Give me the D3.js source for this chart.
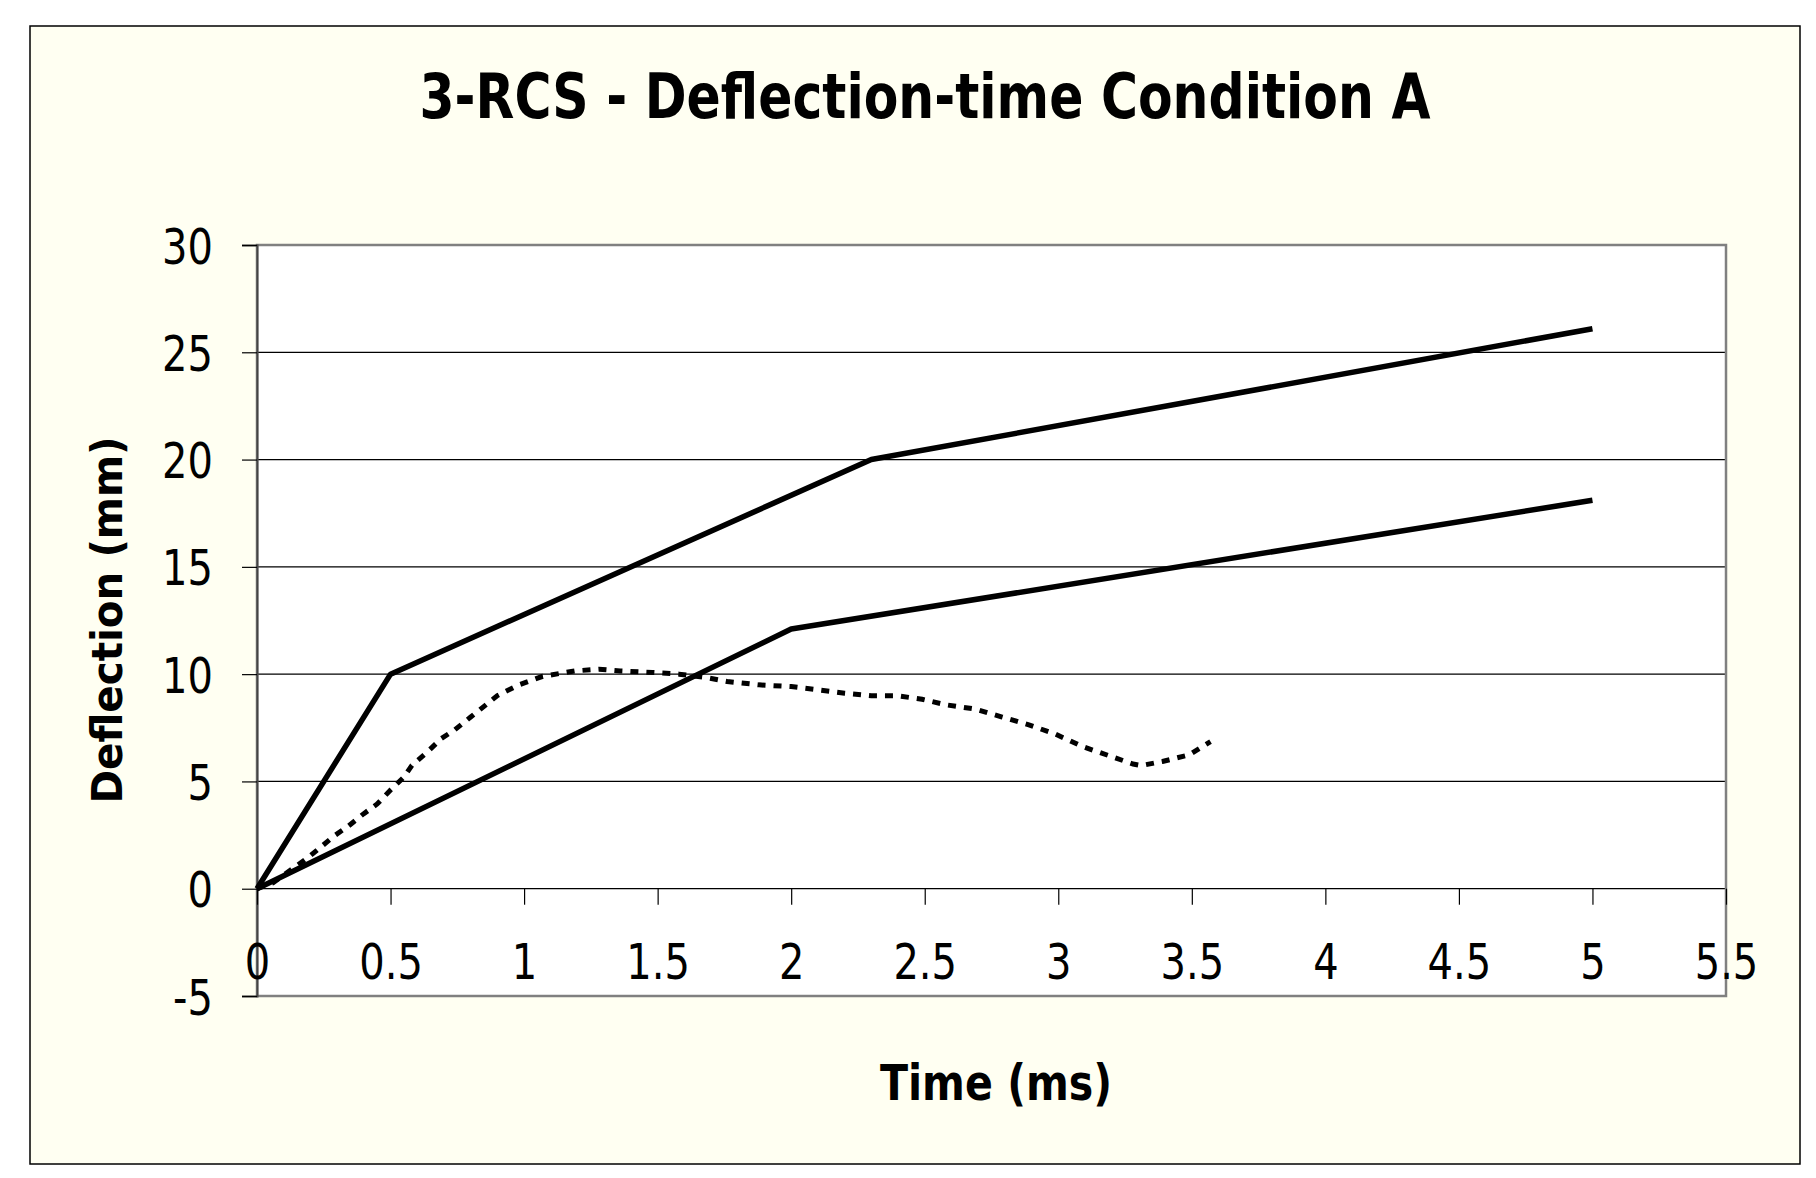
<!DOCTYPE html>
<html>
<head>
<meta charset="utf-8">
<script src="https://cdn.jsdelivr.net/npm/d3@7"></script>
<style>
  html, body { margin: 0; padding: 0; background: #fff; }
  svg { display: block; font-family: "DejaVu Sans", sans-serif; }
</style>
</head>
<body>
<svg id="chart" width="1816" height="1178"></svg>
<script>
// chart data
const upperTime = [0, 0.5, 2.3, 5];
const upperDefl = [0, 10, 20, 26.1];

const lowerTime = [0, 2, 5];
const lowerDefl = [0, 12.1, 18.1];

// measured curve (dashed)
const measTime = [0, 0.06, 0.19, 0.29, 0.34, 0.40, 0.45, 0.50, 0.55, 0.58, 0.64, 0.69, 0.74, 0.80, 0.85, 0.90,
  0.98, 1.07, 1.19, 1.28, 1.36, 1.48, 1.58, 1.68, 1.76, 1.88, 2.0, 2.10, 2.20, 2.30, 2.40, 2.49, 2.58,
  2.69, 2.79, 2.89, 2.99, 3.09, 3.19, 3.28, 3.31, 3.39, 3.49, 3.57];
const measDefl = [0, 0.28, 1.44, 2.47, 2.9, 3.5, 3.95, 4.6, 5.2, 5.75, 6.4, 7.0, 7.4, 8.0, 8.5, 9.0,
  9.5, 9.9, 10.15, 10.23, 10.15, 10.08, 10.0, 9.85, 9.66, 9.5, 9.42, 9.27, 9.11, 8.99, 8.99, 8.83, 8.57,
  8.37, 8.0, 7.64, 7.2, 6.63, 6.2, 5.81, 5.74, 5.93, 6.24, 6.85];

const xTicks = [0, 0.5, 1, 1.5, 2, 2.5, 3, 3.5, 4, 4.5, 5, 5.5];
const yTicks = [-5, 0, 5, 10, 15, 20, 25, 30];
const gridValues = [0, 5, 10, 15, 20, 25];

const title = '3-RCS - Deflection-time Condition A';
const xTitle = 'Time (ms)';
const yTitle = 'Deflection (mm)';

const svg = d3.select('#chart');

// outer chart area
svg.append('rect')
  .attr('x', 30).attr('y', 26)
  .attr('width', 1770).attr('height', 1138)
  .attr('fill', '#fffff2')
  .attr('stroke', '#000')
  .attr('stroke-width', 1.5);

const x = d3.scaleLinear().domain([0, 5.5]).range([257, 1726]);
const y = d3.scaleLinear().domain([-5, 30]).range([996, 245]);

// plot area
svg.append('rect')
  .attr('x', x(0)).attr('y', y(30))
  .attr('width', x(5.5) - x(0)).attr('height', y(-5) - y(30))
  .attr('fill', '#fff');

// grid lines
svg.append('g')
  .selectAll('line')
  .data(gridValues)
  .join('line')
  .attr('x1', x(0)).attr('x2', x(5.5))
  .attr('y1', d => y(d)).attr('y2', d => y(d))
  .attr('stroke', '#000')
  .attr('stroke-width', 1.2);

// plot border
svg.append('rect')
  .attr('x', x(0)).attr('y', y(30))
  .attr('width', x(5.5) - x(0)).attr('height', y(-5) - y(30))
  .attr('fill', 'none')
  .attr('stroke', '#808080')
  .attr('stroke-width', 2.5);

const squeeze = 0.8;
const plain = d => String(d); // keep the ascii hyphen for negatives

// y axis
const yAxis = svg.append('g')
  .attr('transform', `translate(${x(0)},0)`)
  .call(d3.axisLeft(y).tickValues(yTicks).tickSize(15).tickFormat(plain));
yAxis.select('.domain').attr('stroke', '#444').attr('stroke-width', 2);
yAxis.selectAll('.tick line').attr('stroke', '#000').attr('stroke-width', 1.2);
yAxis.selectAll('.tick text')
  .attr('x', null).attr('dy', null)
  .attr('transform', `translate(-44,18) scale(${squeeze},1)`)
  .attr('text-anchor', 'end')
  .attr('font-size', 50)
  .attr('font-family', '"DejaVu Sans", sans-serif')
  .attr('fill', '#000');

// x axis on the zero line
const xAxis = svg.append('g')
  .attr('transform', `translate(0,${y(0)})`)
  .call(d3.axisBottom(x).tickValues(xTicks).tickSize(16).tickFormat(plain));
xAxis.select('.domain').remove();
xAxis.selectAll('.tick line').attr('stroke', '#000').attr('stroke-width', 1.2);
xAxis.selectAll('.tick text')
  .attr('y', null).attr('dy', null)
  .attr('transform', `translate(0,90) scale(${squeeze},1)`)
  .attr('text-anchor', 'middle')
  .attr('font-size', 50)
  .attr('font-family', '"DejaVu Sans", sans-serif')
  .attr('fill', '#000');

// series
const line = d3.line().x(d => x(d[0])).y(d => y(d[1]));
const pairs = (ts, vs) => ts.map((t, i) => [t, vs[i]]);

svg.append('path')
  .datum(pairs(measTime, measDefl))
  .attr('d', line)
  .attr('fill', 'none')
  .attr('stroke', '#000')
  .attr('stroke-width', 5)
  .attr('stroke-dasharray', '8,8');

[pairs(upperTime, upperDefl), pairs(lowerTime, lowerDefl)].forEach(pts => {
  svg.append('path')
    .datum(pts)
    .attr('d', line)
    .attr('fill', 'none')
    .attr('stroke', '#000')
    .attr('stroke-width', 5.5)
    .attr('stroke-linejoin', 'round');
});

// titles
svg.append('text')
  .attr('x', 925).attr('y', 118)
  .attr('text-anchor', 'middle')
  .attr('font-size', 62)
  .attr('font-weight', 'bold')
  .attr('textLength', 1011)
  .attr('lengthAdjust', 'spacingAndGlyphs')
  .text(title);

svg.append('text')
  .attr('x', 996).attr('y', 1100)
  .attr('text-anchor', 'middle')
  .attr('font-size', 50)
  .attr('font-weight', 'bold')
  .attr('textLength', 232)
  .attr('lengthAdjust', 'spacingAndGlyphs')
  .text(xTitle);

svg.append('text')
  .attr('transform', 'translate(122,620) rotate(-90)')
  .attr('text-anchor', 'middle')
  .attr('font-size', 42)
  .attr('font-weight', 'bold')
  .attr('textLength', 367)
  .attr('lengthAdjust', 'spacingAndGlyphs')
  .text(yTitle);
</script>
</body>
</html>
